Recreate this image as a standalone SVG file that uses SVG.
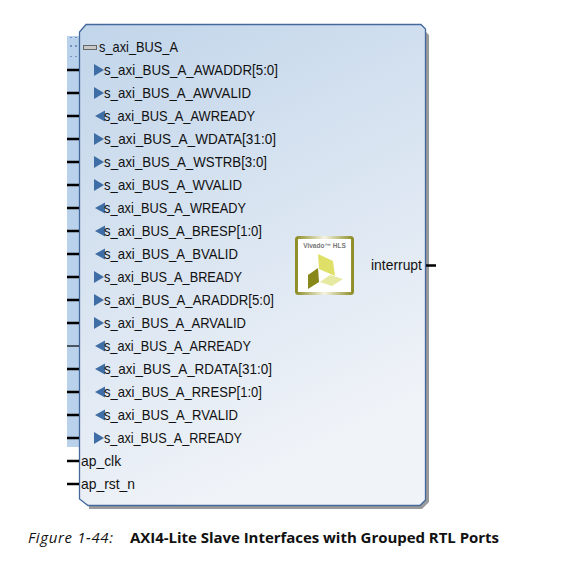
<svg xmlns="http://www.w3.org/2000/svg" width="588" height="561" viewBox="0 0 588 561">
<style>
.t{font-family:"Liberation Sans",Arial,sans-serif;font-size:13.900px;fill:#111}
.p{stroke:#000;stroke-width:2.5;fill:none}
.thin{stroke:#000;stroke-width:1.2;fill:none}
.a{fill:#3f6ea6}
.c{font-family:"Open Sans","Noto Sans",sans-serif;font-size:15px;fill:#111}
</style>
<defs>
<linearGradient id="g" x1="0" y1="0" x2="0.35" y2="1"><stop offset="0" stop-color="#c1d5ea"/><stop offset="1" stop-color="#f0f3f8"/></linearGradient>
<linearGradient id="fr" x1="0" y1="0" x2="1" y2="0"><stop offset="0" stop-color="#8f8f2a"/><stop offset="0.5" stop-color="#f4f4e4"/><stop offset="1" stop-color="#8f8f2a"/></linearGradient>
<path id="r" class="a" d="M94 -6L104 0L94 6Z"/>
<path id="l" class="a" d="M105 -5.500L95 0L105 5.500Z"/>
</defs>
<rect width="588" height="561" fill="#fff"/>
<g id="strip">
<rect x="67" y="36" width="12" height="411" fill="#b9d1ea"/>
<g fill="#6f93bd"><rect x="70" y="37" width="2" height="1"/><rect x="75" y="37" width="2" height="1"/><rect x="70" y="45" width="2" height="2"/><rect x="75" y="45" width="2" height="2"/><rect x="70" y="56" width="2" height="1"/><rect x="75" y="56" width="2" height="1"/></g>
</g>
<g id="block">
<path d="M89 28H422L429 35V502L422 509H89Z" fill="#9a9a9a"/>
<path d="M86 24.500H421L425.500 29V500L420 505.500H88L79.500 499V32Z" fill="url(#g)" stroke="#44689c" stroke-width="1.300"/>
</g>
<g id="connectors">
<path class="p" d="M67 70H79M67 93H79M67 116H79M67 139H79M67 162H79M67 185H79M67 208H79M67 231H79M67 254H79M67 277H79M67 300H79M67 323H79M67 369H79M67 392H79M67 415H79M67 438H79M67 461H79M67 484H79M426 265.500H436"/>
<path class="thin" d="M67 346H79"/>
</g>
<g id="bus"><rect x="83.500" y="45.500" width="13" height="4" fill="#c8c8c8" stroke="#666" stroke-width="1"/><text class="t" x="99" y="52" textLength="79" lengthAdjust="spacingAndGlyphs">s_axi_BUS_A</text></g>
<g id="p1"><use href="#r" y="70"/><text class="t" x="104" y="75" textLength="174" lengthAdjust="spacingAndGlyphs">s_axi_BUS_A_AWADDR[5:0]</text></g>
<g id="p2"><use href="#r" y="93"/><text class="t" x="104" y="98" textLength="147" lengthAdjust="spacingAndGlyphs">s_axi_BUS_A_AWVALID</text></g>
<g id="p3"><use href="#l" y="116"/><text class="t" x="104" y="121" textLength="151" lengthAdjust="spacingAndGlyphs">s_axi_BUS_A_AWREADY</text></g>
<g id="p4"><use href="#r" y="139"/><text class="t" x="104" y="144" textLength="172" lengthAdjust="spacingAndGlyphs">s_axi_BUS_A_WDATA[31:0]</text></g>
<g id="p5"><use href="#r" y="162"/><text class="t" x="104" y="167" textLength="163" lengthAdjust="spacingAndGlyphs">s_axi_BUS_A_WSTRB[3:0]</text></g>
<g id="p6"><use href="#r" y="185"/><text class="t" x="104" y="190" textLength="138" lengthAdjust="spacingAndGlyphs">s_axi_BUS_A_WVALID</text></g>
<g id="p7"><use href="#l" y="208"/><text class="t" x="104" y="213" textLength="142" lengthAdjust="spacingAndGlyphs">s_axi_BUS_A_WREADY</text></g>
<g id="p8"><use href="#l" y="231"/><text class="t" x="104" y="236" textLength="158" lengthAdjust="spacingAndGlyphs">s_axi_BUS_A_BRESP[1:0]</text></g>
<g id="p9"><use href="#l" y="254"/><text class="t" x="104" y="259" textLength="134" lengthAdjust="spacingAndGlyphs">s_axi_BUS_A_BVALID</text></g>
<g id="p10"><use href="#r" y="277"/><text class="t" x="104" y="282" textLength="138" lengthAdjust="spacingAndGlyphs">s_axi_BUS_A_BREADY</text></g>
<g id="p11"><use href="#r" y="300"/><text class="t" x="104" y="305" textLength="170" lengthAdjust="spacingAndGlyphs">s_axi_BUS_A_ARADDR[5:0]</text></g>
<g id="p12"><use href="#r" y="323"/><text class="t" x="104" y="328" textLength="142" lengthAdjust="spacingAndGlyphs">s_axi_BUS_A_ARVALID</text></g>
<g id="p13"><use href="#l" y="346"/><text class="t" x="104" y="351" textLength="147" lengthAdjust="spacingAndGlyphs">s_axi_BUS_A_ARREADY</text></g>
<g id="p14"><use href="#l" y="369"/><text class="t" x="104" y="374" textLength="168" lengthAdjust="spacingAndGlyphs">s_axi_BUS_A_RDATA[31:0]</text></g>
<g id="p15"><use href="#l" y="392"/><text class="t" x="104" y="397" textLength="158" lengthAdjust="spacingAndGlyphs">s_axi_BUS_A_RRESP[1:0]</text></g>
<g id="p16"><use href="#l" y="415"/><text class="t" x="104" y="420" textLength="134" lengthAdjust="spacingAndGlyphs">s_axi_BUS_A_RVALID</text></g>
<g id="p17"><use href="#r" y="438"/><text class="t" x="104" y="443" textLength="138" lengthAdjust="spacingAndGlyphs">s_axi_BUS_A_RREADY</text></g>
<g id="clk"><text class="t" x="81" y="466">ap_clk</text></g>
<g id="rst"><text class="t" x="81" y="489">ap_rst_n</text></g>
<g id="irq"><text class="t" x="371" y="270">interrupt</text></g>
<g id="logo">
<rect x="296.500" y="237.500" width="56" height="56" rx="2" fill="#fff" stroke="url(#fr)" stroke-width="3"/>
<text x="324.500" y="248" text-anchor="middle" font-family="Liberation Sans,sans-serif" font-size="6.500" font-weight="bold" fill="#777">Vivado™ HLS</text>
<path d="M318 254L333 261L335 276L319 269Z" fill="#dfe068"/>
<path d="M318 268L319 282L308 289V275Z" fill="#87871a"/>
<path d="M320 282L330 275L343 279L332 286Z" fill="#e6e9a0"/>
</g>
<g id="caption">
<text class="c" x="28" y="543" font-style="italic" textLength="85">Figure 1-44:</text>
<text class="c" x="130" y="543" font-weight="bold" textLength="369">AXI4-Lite Slave Interfaces with Grouped RTL Ports</text>
</g>
</svg>
